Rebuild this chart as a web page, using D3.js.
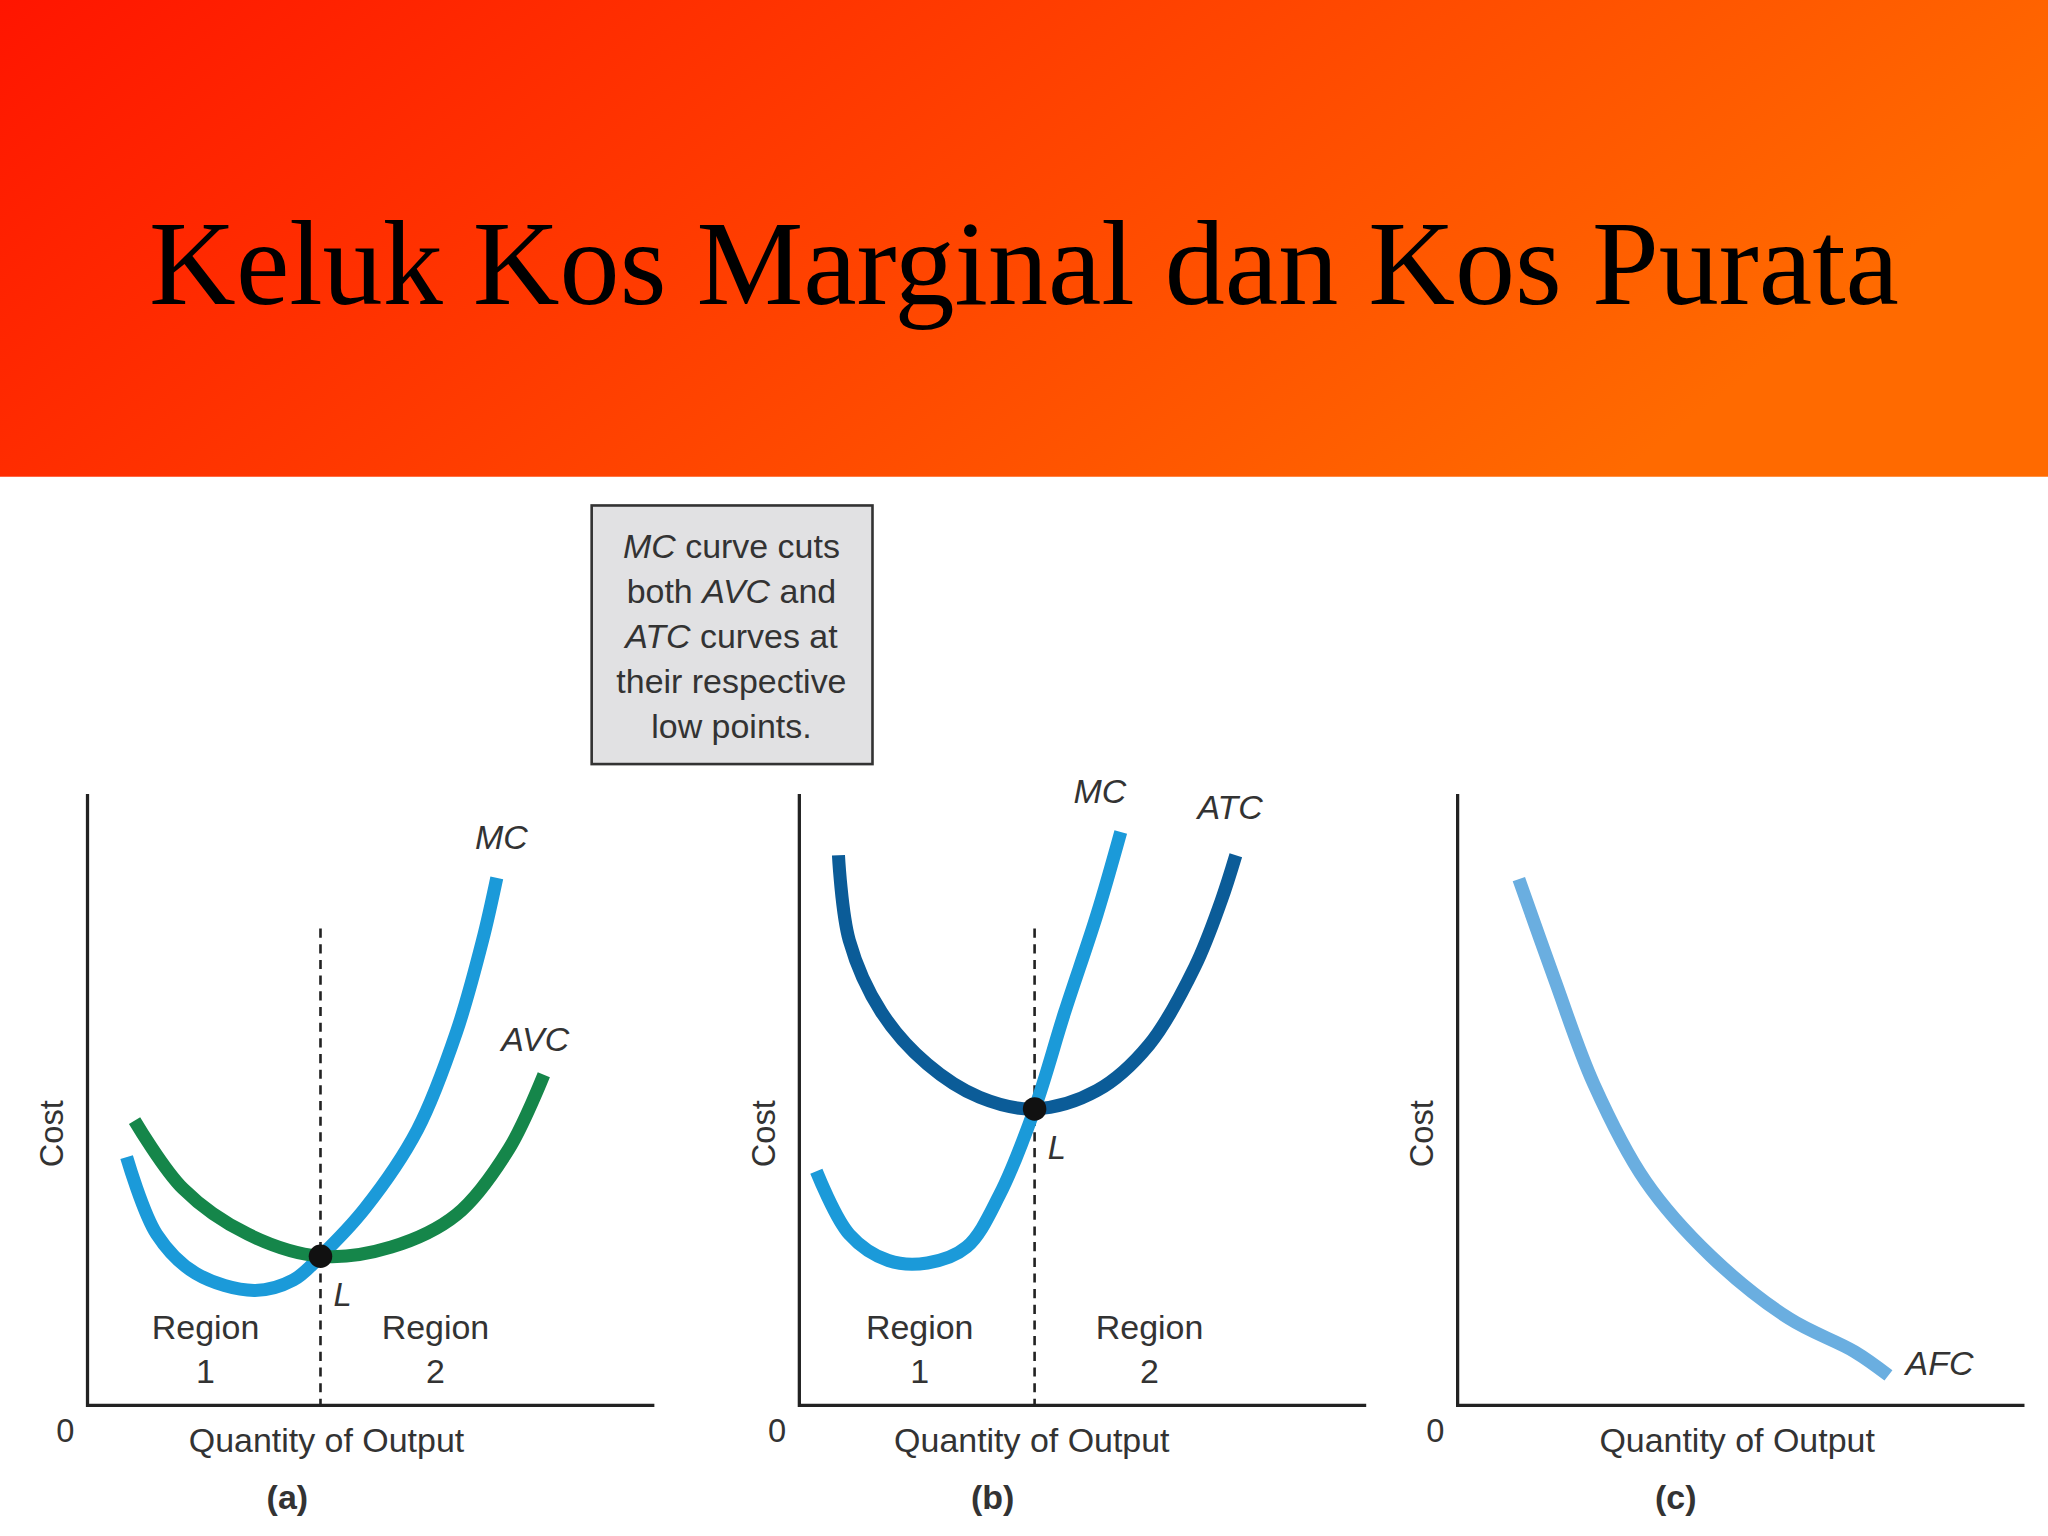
<!DOCTYPE html>
<html><head><meta charset="utf-8">
<script src="https://cdn.jsdelivr.net/npm/d3@7"></script>
<style>body{margin:0;background:#fff}</style></head>
<body><svg id="c" width="2048" height="1536" viewBox="0 0 1568 1176"></svg>
<script>
const title = "Keluk Kos Marginal dan Kos Purata";
const panels = [
  {id:"(a)", x0:67, lx:250, dash:4.11, L:[4.11,2.44]},
  {id:"(b)", x0:612, lx:790, dash:4.15, L:[4.15,4.85]},
  {id:"(c)", x0:1116, lx:1330, dash:null, L:null}
];
const mcA  = [[0.69,4.06],[1.22,2.80],[1.91,2.16],[2.94,1.88],[3.63,2.05],[4.11,2.44],[4.90,3.23],[5.82,4.51],[6.51,6.11],[6.97,7.61],[7.22,8.63]];
const avcA = [[0.83,4.66],[1.68,3.55],[2.83,2.80],[4.11,2.44],[5.36,2.59],[6.51,3.12],[7.43,4.19],[8.05,5.41]];
const mcB  = [[0.30,3.83],[0.88,2.80],[1.57,2.37],[2.26,2.33],[2.95,2.59],[3.53,3.44],[4.15,4.85],[4.68,6.43],[5.25,8.03],[5.67,9.38]];
const atcB = [[0.69,9.0],[0.88,7.61],[1.45,6.43],[2.26,5.58],[3.18,5.04],[4.15,4.85],[5.25,5.15],[6.17,5.90],[6.98,7.18],[7.44,8.25],[7.70,9.0]];
const afcC = [[1.08,8.61],[1.71,6.97],[2.40,5.26],[3.32,3.66],[4.47,2.44],[5.85,1.42],[7.00,0.88],[7.60,0.49]];
const series = [
  {p:0,d:mcA,c:"#1b9ad9",lab:"MC",at:[7.3,9.1]},
  {p:0,d:avcA,c:"#15864a",lab:"AVC",at:[7.9,5.8]},
  {p:1,d:mcB,c:"#1b9ad9",lab:"MC",at:[5.3,9.85]},
  {p:1,d:atcB,c:"#0b5c98",lab:"ATC",at:[7.6,9.6]},
  {p:2,d:afcC,c:"#6aaee0",lab:"AFC",at:[8.5,0.5]}
];
const boxLines = [
  [["MC",1],[" curve cuts",0]],
  [["both ",0],["AVC",1],[" and",0]],
  [["ATC",1],[" curves at",0]],
  [["their respective",0]],
  [["low points.",0]]
];
const svg = d3.select("#c");
const defs = svg.append("defs");
const g = defs.append("linearGradient").attr("id","hg").attr("x1","0").attr("x2","1").attr("y1","0").attr("y2","0.3");
g.append("stop").attr("offset","0").attr("stop-color","#ff1500");
g.append("stop").attr("offset","1").attr("stop-color","#ff6a00");
svg.append("rect").attr("width",1568).attr("height",365).attr("fill","url(#hg)");
svg.append("text").attr("x",784).attr("y",233).attr("text-anchor","middle")
  .attr("font-family","Liberation Serif, serif").attr("font-size",92).attr("fill","#000").text(title);

const font = "Liberation Sans Narrow, Liberation Sans, Arial, sans-serif";
svg.append("rect").attr("x",453).attr("y",387).attr("width",215).attr("height",198)
  .attr("fill","#e1e1e3").attr("stroke","#333").attr("stroke-width",2);
boxLines.forEach((ln,i)=>{
  const t = svg.append("text").attr("x",560).attr("y",427+i*34.5).attr("text-anchor","middle")
    .attr("font-family",font).attr("font-size",26).attr("fill","#333");
  ln.forEach(([s,it])=>t.append("tspan").attr("font-style",it?"italic":"normal").text(s));
});

const scales = panels.map(p=>({
  x:d3.scaleLinear().domain([0,10]).range([p.x0,p.x0+434]),
  y:d3.scaleLinear().domain([0,10]).range([1076,608])
}));
panels.forEach((p,i)=>{
  const {x,y} = scales[i];
  svg.append("path").attr("d",`M${x(0)},${y(10)}V${y(0)}H${x(10)}`).attr("fill","none").attr("stroke","#222").attr("stroke-width",2.5);
  svg.append("text").attr("x",x(0)-17).attr("y",1104).attr("text-anchor","middle").attr("font-family",font).attr("font-size",25).attr("fill","#333").text("0");
  svg.append("text").attr("transform",`translate(${x(0)-19},868) rotate(-90)`).attr("text-anchor","middle").attr("font-family",font).attr("font-size",25).attr("fill","#333").text("Cost");
  svg.append("text").attr("x",p.lx).attr("y",1112).attr("text-anchor","middle").attr("font-family",font).attr("font-size",26).attr("fill","#333").text("Quantity of Output");
  svg.append("text").attr("x",p.lx-30+(i==2?-17:0)).attr("y",1155).attr("text-anchor","middle").attr("font-family",font).attr("font-weight","bold").attr("font-size",26).attr("fill","#333").text(p.id);
  if(p.dash!=null){
    svg.append("line").attr("x1",x(p.dash)).attr("x2",x(p.dash)).attr("y1",y(7.8)).attr("y2",y(0))
      .attr("stroke","#222").attr("stroke-width",2).attr("stroke-dasharray","7,5");
    [[-1,"1"],[1,"2"]].forEach(([s,n])=>{
      const cx = x(p.dash)+s*88;
      svg.append("text").attr("x",cx).attr("y",1025).attr("text-anchor","middle").attr("font-family",font).attr("font-size",26).attr("fill","#333").text("Region");
      svg.append("text").attr("x",cx).attr("y",1059).attr("text-anchor","middle").attr("font-family",font).attr("font-size",26).attr("fill","#333").text(n);
    });
  }
});
const line = d3.line().curve(d3.curveCatmullRom.alpha(0.5));
series.forEach(s=>{
  const {x,y}=scales[s.p];
  svg.append("path").attr("d",line(s.d.map(d=>[x(d[0]),y(d[1])]))).attr("fill","none").attr("stroke",s.c).attr("stroke-width",10);
  svg.append("text").attr("x",x(s.at[0])).attr("y",y(s.at[1])).attr("text-anchor","middle").attr("font-family",font).attr("font-style","italic").attr("font-size",26).attr("fill","#333").text(s.lab);
});
panels.forEach((p,i)=>{
  if(!p.L) return;
  const {x,y}=scales[i];
  svg.append("circle").attr("cx",x(p.L[0])).attr("cy",y(p.L[1])).attr("r",9).attr("fill","#111");
  svg.append("text").attr("x",x(p.L[0])+17).attr("y",y(p.L[1])+38).attr("text-anchor","middle").attr("font-family",font).attr("font-style","italic").attr("font-size",25).attr("fill","#333").text("L");
});
</script></body></html>
